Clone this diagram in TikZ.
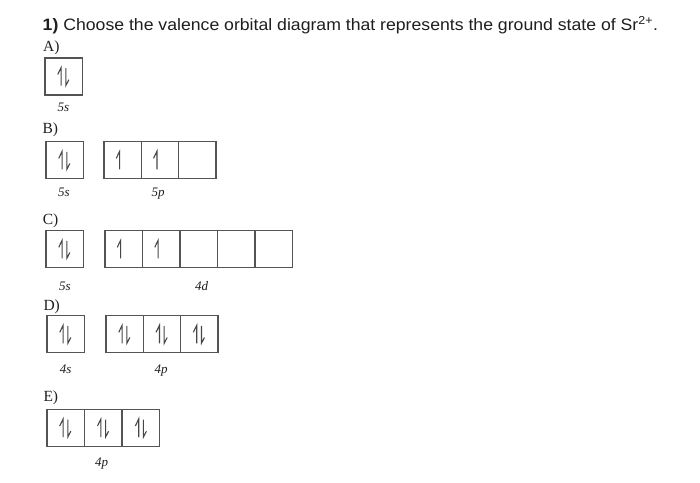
\documentclass[tikz,border=0pt]{standalone}
\usepackage{fontspec}
\setmainfont{Liberation Serif}
\newfontfamily\titlefont[FakeStretch=1.07]{Liberation Sans}
\definecolor{boxgray}{gray}{0.33}
\definecolor{arrgray}{gray}{0.28}
\definecolor{txt}{gray}{0.12}
\begin{document}
\begin{tikzpicture}[x=1pt,y=-1pt,
  orb/.style={draw=boxgray, line width=1.2pt, minimum width=37.3pt, minimum height=37pt, inner sep=0pt, outer sep=0pt},
  arr/.style={draw=arrgray, line width=1.1pt, line join=miter},
  lettr/.style={anchor=base west, inner sep=0pt, text=txt, font=\fontsize{15.5}{18}\selectfont},
  sub/.style={anchor=base, inner sep=0pt, text=txt, font=\fontsize{13}{15}\selectfont\itshape},
  uparrow/.pic={\draw[arr] (-3,9) -- (-3,-9) -- (-6.4,-2);},
  pairarrows/.pic={\draw[arr] (-2.5,9) -- (-2.5,-9) -- (-5.9,-2);
                   \draw[arr] (2.2,-8.5) -- (2.2,9) -- (5.2,3.2);}
]
\useasboundingbox (0,0) rectangle (700,482);
\fill[white] (0,0) rectangle (700,482);

% title
\node[anchor=base west, inner sep=0pt, text=txt, font=\titlefont\fontsize{16.5}{19}\selectfont] (title) at (42.5,30.7)
  {\textbf{1)} Choose the valence orbital diagram that represents the ground state of Sr\textsuperscript{2+}.};

% A
\node[lettr] (lA) at (43,51.7) {A)};
\node[orb] (A1) at ({45+18.65},76.5) {};
\pic at (A1) {pairarrows};
\node[sub] (sA) at (63.5,111.7) {5s};

% B
\node[lettr] (lB) at (42.3,133) {B)};
\node[orb] (Bs) at ({46+18.65},160.3) {};
\pic at (Bs) {pairarrows};
\foreach \i in {0,1,2} \node[orb] (Bp\i) at ({104+18.65+37.3*\i},160.3) {};
\pic at (Bp0) {uparrow};
\pic at (Bp1) {uparrow};
\node[sub] (sBs) at (64,196) {5s};
\node[sub] (sBp) at (158,196) {5p};

% C
\node[lettr] (lC) at (42.7,224) {C)};
\node[orb] (Cs) at ({46+18.65},249.3) {};
\pic at (Cs) {pairarrows};
\foreach \i in {0,...,4} \node[orb] (Cd\i) at ({105+18.65+37.5*\i},249.3) {};
\pic at (Cd0) {uparrow};
\pic at (Cd1) {uparrow};
\node[sub] (sCs) at (65,290) {5s};
\node[sub] (sCd) at (201.7,290) {4d};

% D
\node[lettr] (lD) at (43.3,310.7) {D)};
\node[orb] (Ds) at ({47+18.65},334.3) {};
\pic at (Ds) {pairarrows};
\foreach \i in {0,1,2} {
  \node[orb] (Dp\i) at ({106+18.65+37.3*\i},334.3) {};
  \pic at (Dp\i) {pairarrows};
}
\node[sub] (sDs) at (65.7,373) {4s};
\node[sub] (sDp) at (161,373) {4p};

% E
\node[lettr] (lE) at (43.3,401.7) {E)};
\foreach \i in {0,1,2} {
  \node[orb] (Ep\i) at ({46.7+18.9+37.8*\i},428) {};
  \pic at (Ep\i) {pairarrows};
}
\node[sub] (sEp) at (101.7,466) {4p};
\end{tikzpicture}
\end{document}
